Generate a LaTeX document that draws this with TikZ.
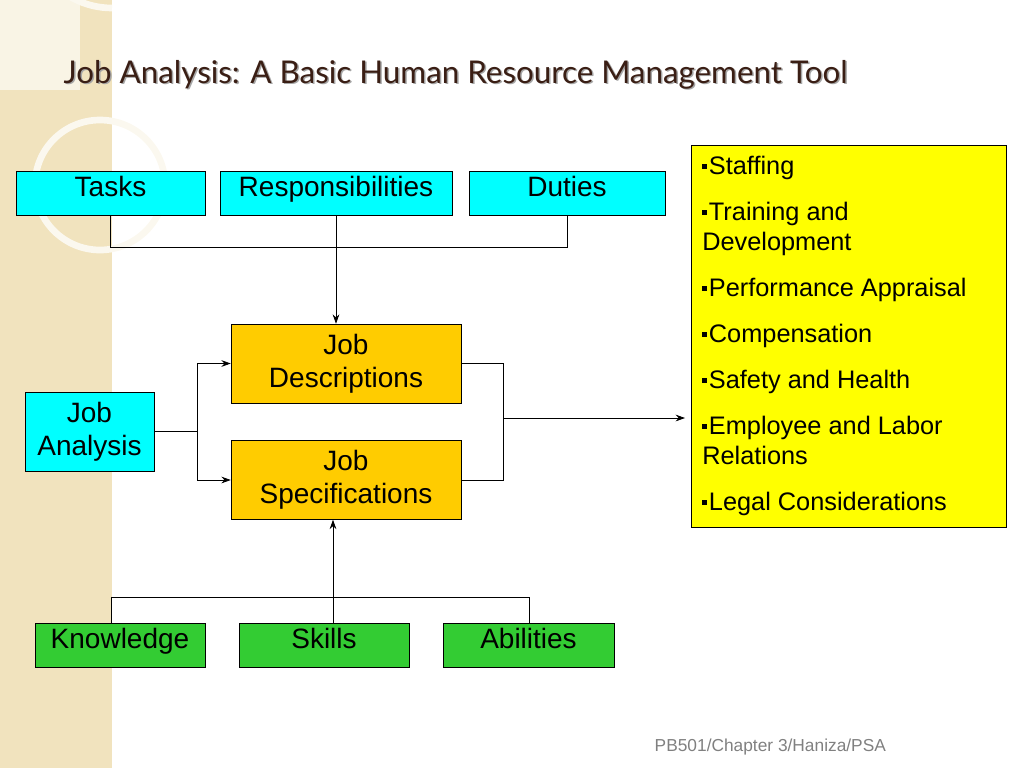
\documentclass[tikz,border=0pt]{standalone}
\usepackage{fontspec}
\setmainfont{Liberation Sans}
\newfontfamily\titlefont{Lato}
\usetikzlibrary{arrows.meta,positioning}
\definecolor{boxcyan}{HTML}{00FFFF}
\definecolor{boxorange}{HTML}{FFCC00}
\definecolor{boxgreen}{HTML}{33CC33}
\definecolor{boxyellow}{HTML}{FFFF00}
\definecolor{titlebrown}{HTML}{3A1E14}
\definecolor{stripbeige}{HTML}{F1E3BE}
\newcommand{\sqb}{\raisebox{0.45ex}{\rule{3.5pt}{3.5pt}}\hspace{1.5pt}}
\begin{document}
\begin{tikzpicture}[
    x=0.75pt, y=-0.75pt,
    box/.style={rectangle, draw, align=center, inner sep=2pt, font=\fontsize{21}{25}\selectfont, minimum height=33pt},
    task/.style={box, fill=boxcyan, text height=0.75em, text depth=0.22em},
    job/.style={box, fill=boxorange, minimum width=172.5pt, minimum height=59.25pt},
    ksa/.style={box, fill=boxgreen, text height=0.75em, text depth=0.22em},
    link/.style={draw, line width=0.6pt},
    arr/.style={link, -{Stealth[length=7pt,width=5pt]}},
    ttl/.style={anchor=base west, font=\titlefont\fontsize{23.5}{28}\selectfont}
]
\useasboundingbox (0,0) rectangle (1024,768);
% decorative strip
\fill[stripbeige] (0,0) rectangle (112,768);
\fill[white!60!stripbeige] (0,0) rectangle (80,90);
\draw[white!75!stripbeige, line width=5pt] (112,8) arc (90:250:95 and 110);
\draw[white!75!stripbeige, line width=5pt] (100,185) circle (65);
\node[ttl, text=black!35] (titleshadow) at (60.5,84.5) {Job Analysis: A Basic Human Resource Management Tool};
\node[ttl, text=titlebrown] (title) at (59,83) {Job Analysis: A Basic Human Resource Management Tool};

\node[task, minimum width=141.75pt] (tasks) at (110.5,193) {Tasks};
\node[task, minimum width=174pt] (resp) at (336,193) {Responsibilities};
\node[task, minimum width=147pt] (duties) at (567,193) {Duties};

\node[job] (jd) at (346,363.5) {Job\\Descriptions};
\node[job] (js) at (346,480) {Job\\Specifications};
\node[box, fill=boxcyan, minimum width=96.75pt, minimum height=59.25pt] (ja) at (89.5,431.5) {Job\\Analysis};

\node[ksa, minimum width=127.5pt] (know) at (120,645) {Knowledge};
\node[ksa, minimum width=127.5pt] (skills) at (324,645) {Skills};
\node[ksa, minimum width=128.25pt] (abil) at (528.5,645) {Abilities};

\node[rectangle, draw, fill=boxyellow, minimum width=236.25pt, minimum height=286.5pt] (uses) at (848.5,336) {};
\node[anchor=north west, align=left, inner sep=0pt, font=\fontsize{19}{22.5}\selectfont] (list) at (702,156)
  {\sqb Staffing\\[12pt]
   \sqb Training and\\Development\\[12pt]
   \sqb Performance Appraisal\\[12pt]
   \sqb Compensation\\[12pt]
   \sqb Safety and Health\\[12pt]
   \sqb Employee and Labor\\Relations\\[12pt]
   \sqb Legal Considerations};

% connectors
\coordinate (tl) at (tasks.south |- 0,247);
\coordinate (tr) at (duties.south |- 0,247);
\path[link] (tasks.south) -- (tl) -- (tr) -- (duties.south);
\path[arr] (resp.south) -- (resp.south |- jd.north);
\coordinate (jax) at (197,431.5);
\path[link] (ja.east) -- (jax);
\path[arr] (jax |- jd.west) -- (jd.west);
\path[arr] (jax |- js.west) -- (js.west);
\path[link] (jax |- jd.west) -- (jax |- js.west);
\coordinate (jr) at (503,418);
\path[link] (jd.east) -- (jr |- jd.east) -- (jr |- js.east) -- (js.east);
\path[arr] (jr) -- (685,418);
\path[link] (111,597) -- (111,623);
\path[link] (111,597) -- (529,597) -- (529,623);
\path[arr] (333,623) -- (js.south -| 333,0);

\node[anchor=base west, font=\fontsize{13}{15}\selectfont, text=gray] (foot) at (650,751) {PB501/Chapter 3/Haniza/PSA};
\end{tikzpicture}
\end{document}
